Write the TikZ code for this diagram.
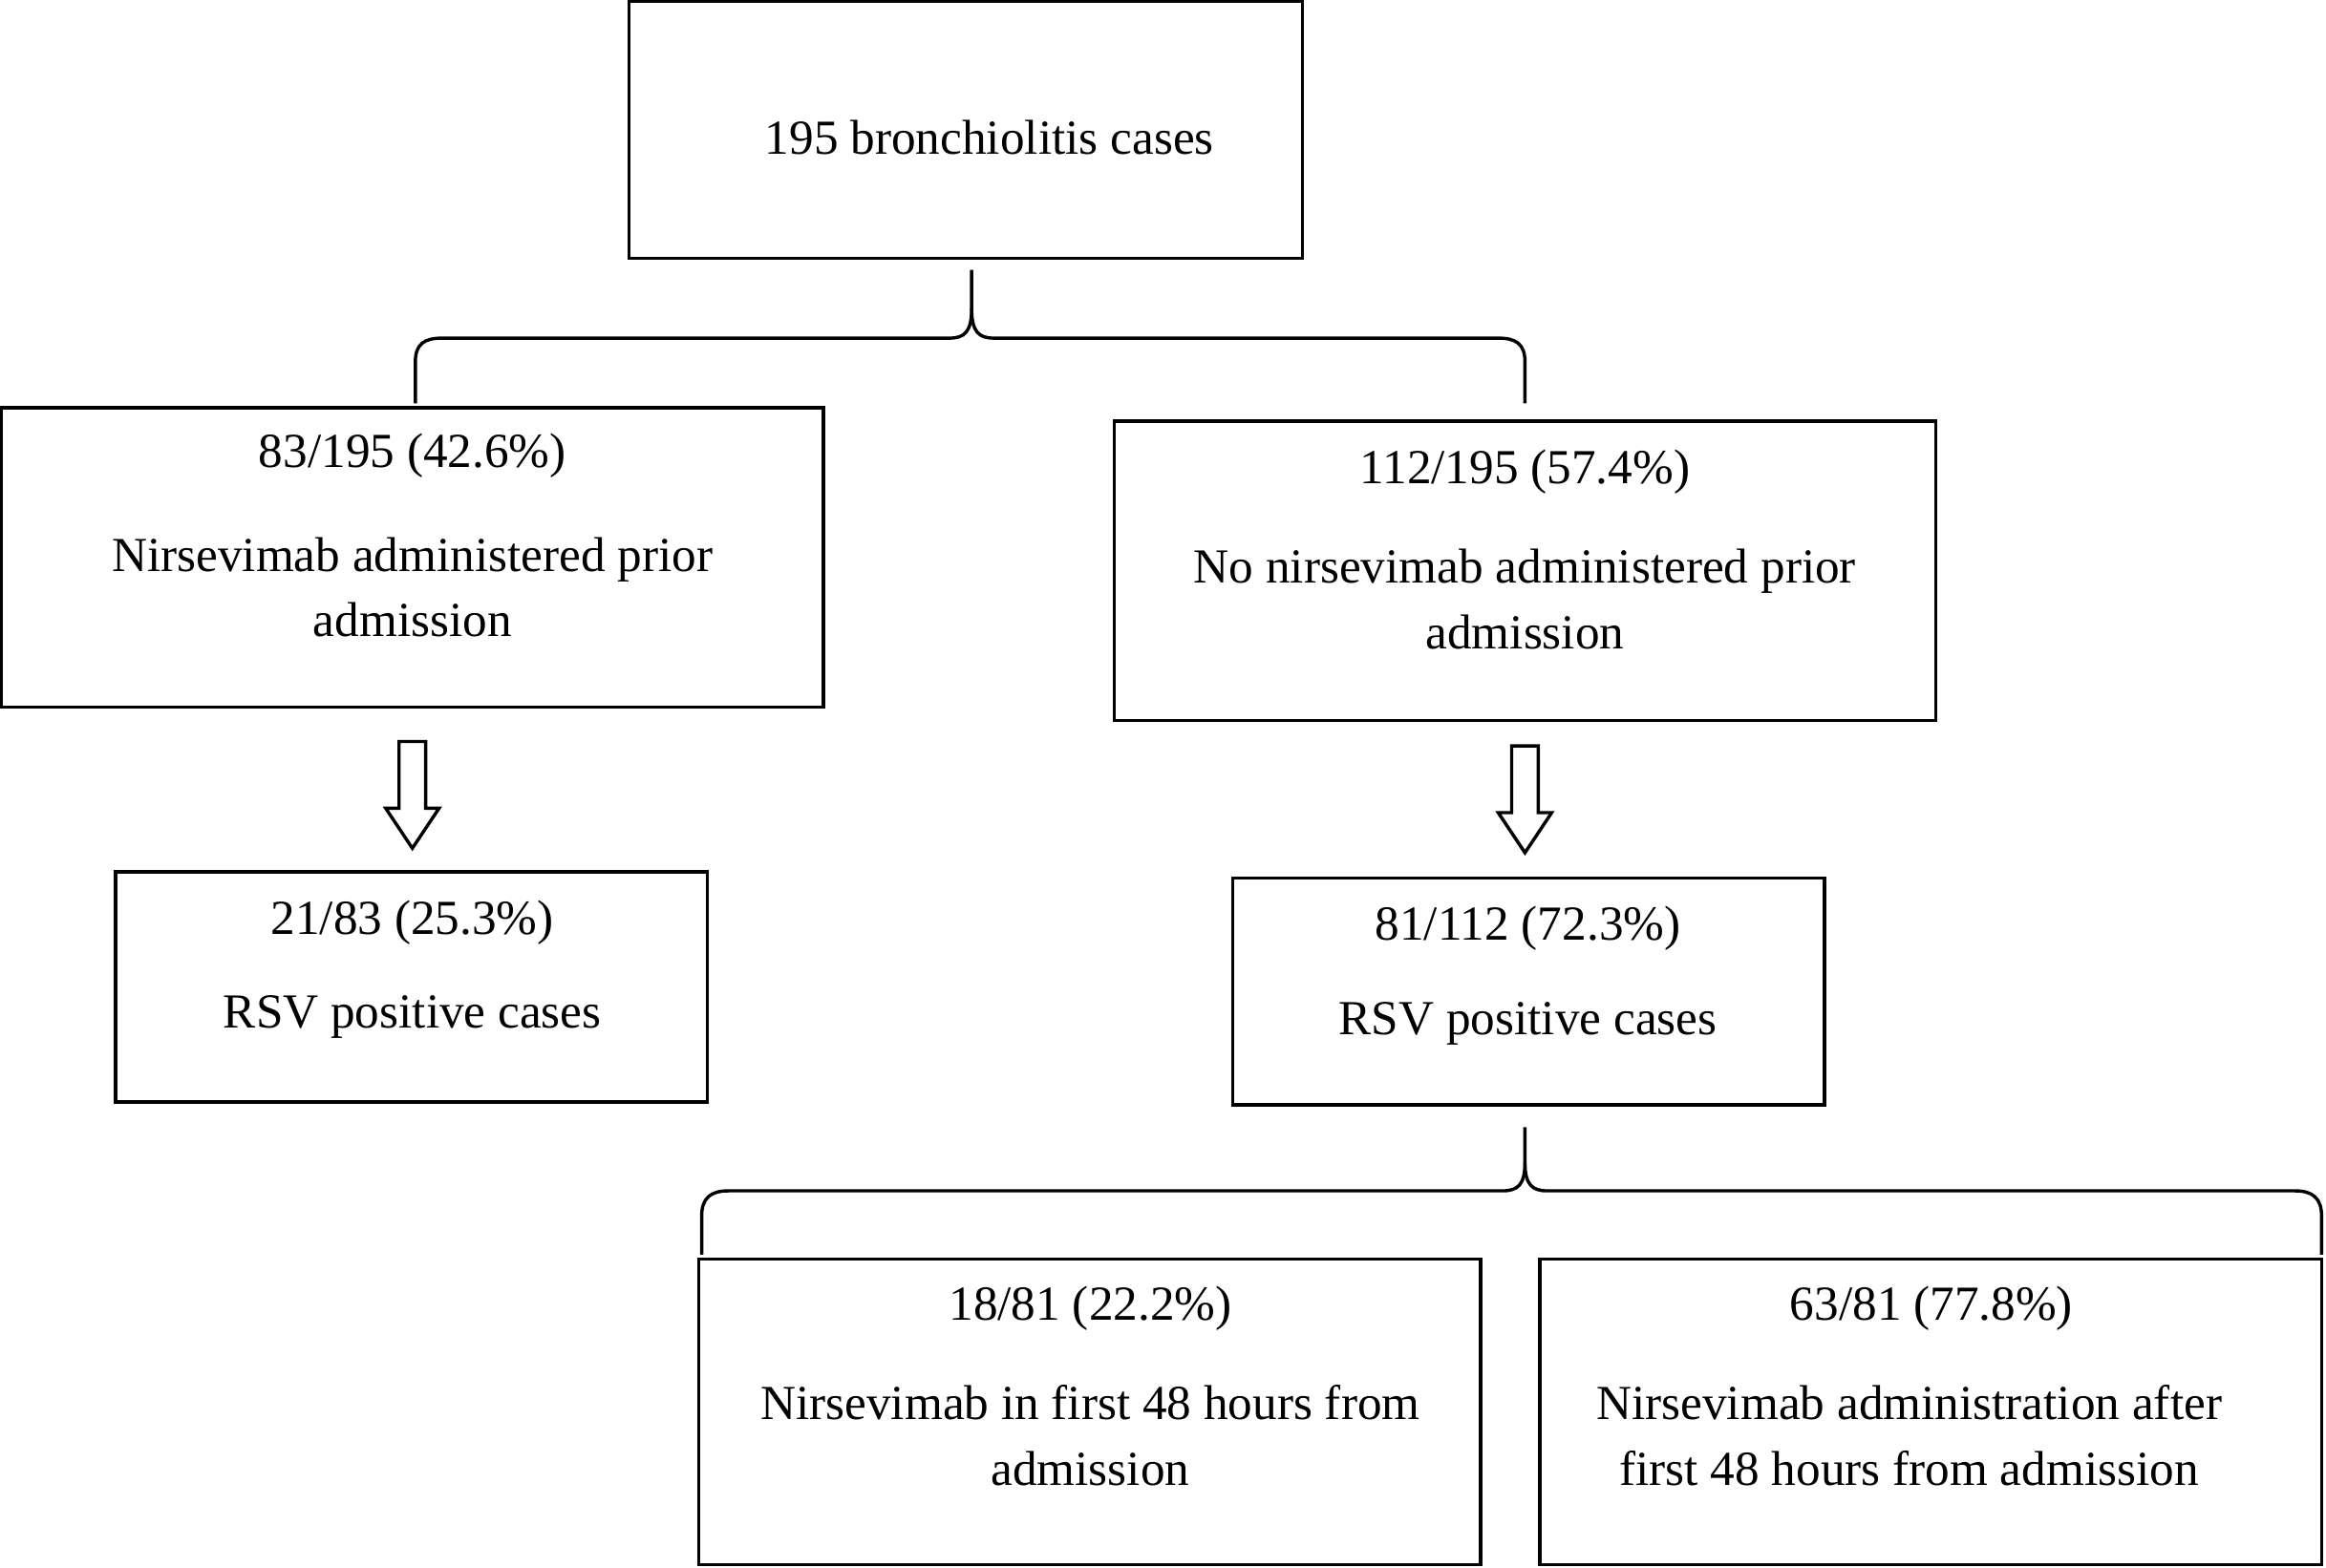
\documentclass[tikz,border=0pt]{standalone}
\usepackage{fontspec}
\setmainfont{Liberation Serif}
\begin{document}
\begin{tikzpicture}[x=0.5pt,y=-0.5pt,
  box/.style={draw,line width=1.1pt,inner sep=0pt},
  txt/.style={inner sep=0pt,font=\fontsize{16.5}{22}\selectfont,align=center},
  ln/.style={line width=1.1pt},
  hollow/.style={line width=1.1pt,line join=miter}]
\useasboundingbox (0,0) rectangle (1568,1057);
\newcommand{\bx}[5]{\node[box,minimum width=(#3-#2)*0.5pt,minimum height=(#5-#4)*0.5pt] (#1) at ({(#2+#3)/2},{(#4+#5)/2}) {};}
\bx{top}{424}{878}{1}{174}
\bx{L}{1}{555}{275}{477}
\bx{R}{751}{1305}{284}{486}
\bx{LR}{78}{477}{588}{743}
\bx{RR}{831}{1230}{592}{745}
\bx{BL}{471}{998}{849}{1055}
\bx{BR}{1038}{1565}{849}{1055}
\node[txt] (t0) at (667,93) {195 bronchiolitis cases};
\node[txt] (t1) at (278,307) {83/195 (42.6\%)};
\node[txt] (t2) at (278,396) {Nirsevimab administered prior\\admission};
\node[txt] (t3) at (1028,318) {112/195 (57.4\%)};
\node[txt] (t4) at (1028,404) {No nirsevimab administered prior\\admission};
\node[txt] (t5) at (278,622) {21/83 (25.3\%)};
\node[txt] (t6) at (278,686) {RSV positive cases};
\node[txt] (t7) at (1030,626) {81/112 (72.3\%)};
\node[txt] (t8) at (1030,690) {RSV positive cases};
\node[txt] (t9) at (735,882) {18/81 (22.2\%)};
\node[txt] (t10) at (735,968) {Nirsevimab in first 48 hours from\\admission};
\node[txt] (t11) at (1302,882) {63/81 (77.8\%)};
\node[txt] (t12) at (1287,968) {Nirsevimab administration after\\first 48 hours from admission};
% top brace
\draw[ln] (280,272) -- (280,244) .. controls (280,232) and (286,228) .. (298,228) -- (640,228)
  .. controls (650,228) and (655,224) .. (655,208) -- (655,182);
\draw[ln] (655,208) .. controls (655,224) and (660,228) .. (670,228) -- (1010,228)
  .. controls (1022,228) and (1028,232) .. (1028,244) -- (1028,272);
% bottom brace
\draw[ln] (473,846) -- (473,820) .. controls (473,808) and (479,803) .. (491,803) -- (1013,803)
  .. controls (1023,803) and (1028,799) .. (1028,784) -- (1028,760);
\draw[ln] (1028,784) .. controls (1028,799) and (1033,803) .. (1043,803) -- (1547,803)
  .. controls (1559,803) and (1565,808) .. (1565,820) -- (1565,846);
% hollow arrows
\draw[hollow] (269,500) -- (287,500) -- (287,545) -- (296,545) -- (278,572) -- (260,545) -- (269,545) -- cycle;
\draw[hollow] (1019,503) -- (1037,503) -- (1037,548) -- (1046,548) -- (1028,575) -- (1010,548) -- (1019,548) -- cycle;
\end{tikzpicture}
\end{document}
